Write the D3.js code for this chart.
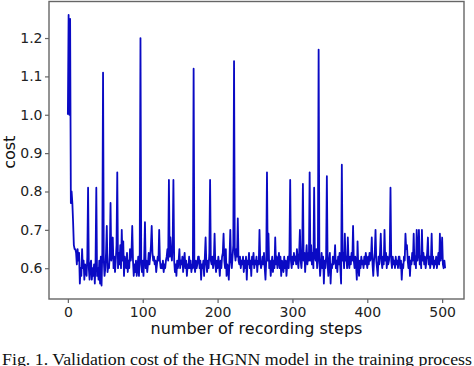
<!DOCTYPE html>
<html lang="en">
	<head>
		<meta charset="utf-8">
		<title>Validation cost</title>
		<script src="https://d3js.org/d3.v7.min.js" charset="utf-8"></script>
		<style type="text/css">
			body { margin: 0; background: #fff; }
			.tick text { font-family: "DejaVu Sans", sans-serif; font-size: 14px; fill: #222; }
		</style>
	</head>
	<body>
		<script type="text/javascript">

		// validation cost at each recording step (step = index)
		var cost = [
			1.00,1.26,1.00,1.25,0.77,0.80,0.77,0.72,0.66,0.65,
			0.65,0.64,0.61,0.65,0.62,0.64,0.56,0.60,0.58,0.65,
			0.60,0.62,0.57,0.61,0.60,0.58,0.63,0.81,0.60,0.57,
			0.61,0.62,0.57,0.60,0.58,0.61,0.56,0.62,0.81,0.58,
			0.60,0.57,0.62,0.56,0.63,0.555,0.64,1.11,0.62,0.58,
			0.60,0.64,0.71,0.59,0.61,0.60,0.64,0.77,0.62,0.64,
			0.68,0.60,0.63,0.59,0.62,0.66,0.85,0.60,0.64,0.61,
			0.66,0.60,0.70,0.62,0.67,0.58,0.63,0.61,0.60,0.64,
			0.59,0.62,0.60,0.65,0.62,0.64,0.71,0.62,0.58,0.61,
			0.59,0.62,0.58,0.60,0.63,0.58,0.64,1.20,0.61,0.59,
			0.62,0.58,0.63,0.72,0.60,0.62,0.59,0.61,0.64,0.61,
			0.63,0.66,0.71,0.64,0.62,0.63,0.61,0.62,0.59,0.61,
			0.63,0.62,0.70,0.62,0.60,0.61,0.60,0.62,0.59,0.61,
			0.60,0.62,0.63,0.65,0.62,0.83,0.63,0.68,0.64,0.62,
			0.66,0.83,0.62,0.59,0.61,0.58,0.62,0.60,0.62,0.65,
			0.60,0.62,0.61,0.63,0.59,0.62,0.64,0.60,0.62,0.58,
			0.61,0.60,0.63,0.60,0.62,0.59,0.61,0.60,1.12,0.61,
			0.59,0.62,0.60,0.61,0.63,0.63,0.60,0.62,0.57,0.61,
			0.60,0.62,0.58,0.63,0.68,0.61,0.59,0.62,0.60,0.64,
			0.83,0.62,0.61,0.63,0.60,0.62,0.69,0.61,0.59,0.62,
			0.60,0.63,0.61,0.58,0.62,0.60,0.63,0.64,0.69,0.62,
			0.60,0.65,0.58,0.61,0.60,0.57,0.63,0.70,0.62,0.60,
			0.63,0.66,1.14,0.64,0.62,0.65,0.63,0.73,0.62,0.61,
			0.63,0.60,0.62,0.61,0.63,0.59,0.62,0.60,0.63,0.57,
			0.62,0.61,0.64,0.60,0.62,0.58,0.63,0.61,0.64,0.60,
			0.62,0.61,0.63,0.59,0.62,0.61,0.70,0.62,0.60,0.61,
			0.63,0.61,0.64,0.60,0.57,0.62,0.85,0.62,0.69,0.60,
			0.62,0.58,0.61,0.63,0.59,0.62,0.60,0.68,0.61,0.63,
			0.60,0.62,0.64,0.60,0.63,0.58,0.62,0.61,0.59,0.63,
			0.60,0.62,0.58,0.61,0.63,0.60,0.64,0.83,0.62,0.60,
			0.63,0.61,0.64,0.62,0.63,0.61,0.65,0.62,0.60,0.64,
			0.70,0.62,0.60,0.63,0.82,0.62,0.64,0.59,0.63,0.66,
			0.61,0.64,0.62,0.85,0.62,0.66,0.61,0.64,0.60,0.81,
			0.63,0.62,0.65,0.60,0.63,1.17,0.62,0.58,0.61,0.64,
			0.60,0.63,0.56,0.62,0.60,0.63,0.84,0.61,0.58,0.62,
			0.64,0.56,0.61,0.60,0.63,0.61,0.62,0.66,0.60,0.62,
			0.59,0.63,0.61,0.64,0.60,0.56,0.87,0.62,0.64,0.60,
			0.69,0.62,0.63,0.60,0.68,0.62,0.60,0.63,0.61,0.64,
			0.62,0.71,0.62,0.60,0.63,0.61,0.57,0.67,0.60,0.58,
			0.62,0.60,0.63,0.61,0.62,0.60,0.63,0.61,0.64,0.62,
			0.60,0.63,0.61,0.64,0.62,0.63,0.68,0.61,0.58,0.62,
			0.64,0.70,0.62,0.60,0.58,0.63,0.61,0.64,0.69,0.62,
			0.60,0.63,0.61,0.70,0.62,0.64,0.60,0.63,0.61,0.62,
			0.64,0.81,0.62,0.60,0.63,0.61,0.62,0.60,0.63,0.61,
			0.62,0.60,0.63,0.63,0.60,0.62,0.57,0.61,0.60,0.63,
			0.62,0.69,0.65,0.66,0.62,0.60,0.63,0.58,0.62,0.61,
			0.64,0.62,0.69,0.61,0.63,0.60,0.70,0.62,0.64,0.70,
			0.61,0.63,0.60,0.70,0.62,0.64,0.61,0.63,0.60,0.62,
			0.64,0.68,0.61,0.63,0.60,0.62,0.69,0.61,0.63,0.60,
			0.62,0.61,0.63,0.60,0.62,0.64,0.61,0.69,0.62,0.64,
			0.68,0.61,0.60,0.62,0.60
		];
		var xTicks = [0, 100, 200, 300, 400, 500];
		var yTicks = [0.6, 0.7, 0.8, 0.9, 1.0, 1.1, 1.2];
		var xLabel = "number of recording steps";
		var yLabel = "cost";
		var caption = "Fig. 1. Validation cost of the HGNN model in the training process";

		drawChart();

		function drawChart(){
			var w = 474, h = 366;
			var mLeft = 49, mRight = 464, mTop = 1.5, mBottom = 299;

			var svg = d3.select("body")
						.append("svg")
						.attr("width", w)
						.attr("height", h);

			// matplotlib style 5% margins
			var xMax = cost.length - 1;
			var yExt = d3.extent(cost);
			var yPad = (yExt[1] - yExt[0]) * 0.05;

			var x = d3.scaleLinear()
					.domain([-xMax * 0.05, xMax * 1.05])
					.range([mLeft, mRight]);
			var y = d3.scaleLinear()
					.domain([yExt[0] - yPad, yExt[1] + yPad])
					.range([mBottom, mTop]);

			var line = d3.line()
					.x(function(d, i) { return x(i); })
					.y(function(d) { return y(d); });

			svg.append("path")
			   .datum(cost)
			   .attr("fill", "none")
			   .attr("stroke", "#0a0ac4")
			   .attr("stroke-width", 1.8)
			   .attr("stroke-linejoin", "round")
			   .attr("d", line);

			// frame
			svg.append("rect")
			   .attr("x", mLeft)
			   .attr("y", mTop)
			   .attr("width", mRight - mLeft)
			   .attr("height", mBottom - mTop)
			   .attr("fill", "none")
			   .attr("stroke", "#666")
			   .attr("stroke-width", 1.4);

			var xAxis = svg.append("g")
				.attr("transform", "translate(0," + mBottom + ")")
				.call(d3.axisBottom(x).tickValues(xTicks).tickSize(4).tickPadding(4).tickFormat(d3.format("d")));
			var yAxis = svg.append("g")
				.attr("transform", "translate(" + mLeft + ",0)")
				.call(d3.axisLeft(y).tickValues(yTicks).tickSize(4).tickPadding(2.5).tickFormat(d3.format(".1f")));
			[xAxis, yAxis].forEach(function(g) {
				g.select(".domain").remove();
				g.selectAll(".tick line").attr("stroke", "#666").attr("stroke-width", 1.2);
			});

			svg.append("text")
			   .attr("x", (mLeft + mRight) / 2)
			   .attr("y", 334)
			   .attr("text-anchor", "middle")
			   .style("font-family", "DejaVu Sans, sans-serif")
			   .style("font-size", "16px")
			   .attr("fill", "#111")
			   .text(xLabel);

			svg.append("text")
			   .attr("transform", "translate(15," + ((mTop + mBottom) / 2 + 2) + ") rotate(-90)")
			   .attr("text-anchor", "middle")
			   .style("font-family", "DejaVu Sans, sans-serif")
			   .style("font-size", "16px")
			   .attr("fill", "#111")
			   .text(yLabel);

			svg.append("text")
			   .attr("x", 2)
			   .attr("y", 365)
			   .attr("textLength", 470)
			   .attr("lengthAdjust", "spacingAndGlyphs")
			   .style("font-family", "Liberation Serif, Times New Roman, serif")
			   .style("font-size", "17px")
			   .attr("fill", "#111")
			   .text(caption);
		}

		</script>
	</body>
</html>
